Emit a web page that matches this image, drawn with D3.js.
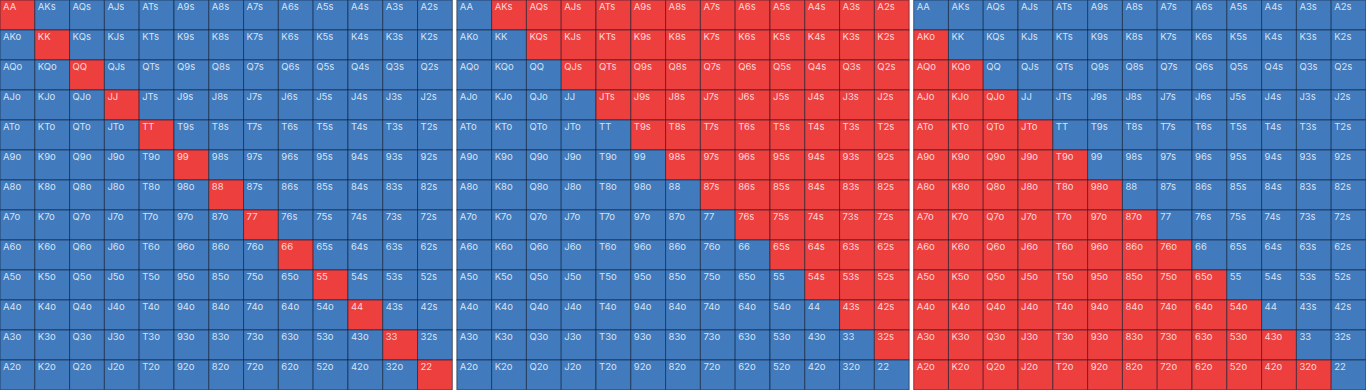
<!DOCTYPE html>
<html>
<head>
<meta charset="UTF-8" />
<style>
  body { margin: 0; background: #fff; }
  svg { display: block; }
  .cell rect { stroke: rgba(10, 20, 40, 0.55); stroke-width: 1px; }
  .cell text {
    font-family: Inter, "Open Sans", sans-serif;
    font-size: 9.5px;
    fill: rgba(255, 255, 255, 0.8);
  }
</style>
<script src="https://d3js.org/d3.v7.min.js"></script>
</head>
<body>
<svg id="chart"></svg>
<script>
  // ranks, high to low
  const ranks = ["A", "K", "Q", "J", "T", "9", "8", "7", "6", "5", "4", "3", "2"];
  // which hand type is red in each panel
  const panels = ["pair", "suited", "offsuit"];

  const width = 1366, height = 390, gap = 4.5;

  const svg = d3.select("#chart").attr("width", width).attr("height", height);

  const panelW = (width - gap * (panels.length - 1)) / panels.length;
  const px = d3.scaleBand()
    .domain(panels)
    .range([0, width])
    .paddingInner(gap / (panelW + gap))
    .paddingOuter(0);

  const x = d3.scaleBand().domain(d3.range(ranks.length)).range([0, px.bandwidth()]);
  const y = d3.scaleBand().domain(d3.range(ranks.length)).range([0, height]);

  // build the 13x13 hand list
  const hands = [];
  ranks.forEach((r, i) => {
    ranks.forEach((c, j) => {
      let type, label;
      if (i === j) { type = "pair"; label = r + c; }
      else if (j > i) { type = "suited"; label = r + c + "s"; }
      else { type = "offsuit"; label = c + r + "o"; }
      hands.push({ row: i, col: j, type, label });
    });
  });

  const blue = "#417bbd", red = "#ee3f3f";

  panels.forEach(p => {
    const g = svg.append("g").attr("transform", `translate(${px(p)},0)`);
    const cell = g.selectAll("g.cell")
      .data(hands)
      .join("g")
      .attr("class", "cell")
      .attr("transform", d => `translate(${x(d.col)},${y(d.row)})`);

    cell.append("rect")
      .attr("width", x.bandwidth())
      .attr("height", y.bandwidth())
      .attr("fill", d => d.type === p ? red : blue);

    cell.append("text")
      .attr("x", 3)
      .attr("y", 10)
      .text(d => d.label);
  });
</script>
</body>
</html>
